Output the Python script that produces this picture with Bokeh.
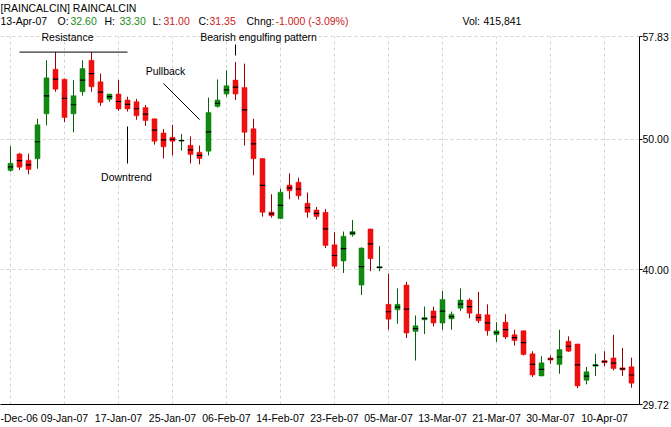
from bokeh.plotting import figure
from bokeh.models import (Range1d, FixedTicker, ColumnDataSource, Label,
                          PrintfTickFormatter)
from bokeh.embed import file_html
from bokeh.resources import INLINE

# ---------------- data ----------------
opens = [47.60, 48.86, 48.38, 48.49, 51.92, 55.33, 54.57, 51.92, 53.61, 56.01,
         54.37, 53.03, 53.43, 52.98, 52.85, 52.40, 51.54, 50.46, 50.13, 49.86,
         49.52, 48.99, 49.07, 52.48, 53.43, 54.50, 53.94, 50.78, 48.51, 44.42,
         43.92, 46.48, 46.70, 45.10, 44.57, 44.40, 41.92, 40.68, 42.68, 38.84,
         43.13, 40.15, 37.37, 36.95, 38.84, 35.30, 36.19, 36.87, 35.94, 36.26,
         37.07, 37.70, 36.62, 36.57, 35.05, 36.01, 35.05, 35.35, 33.59, 31.90,
         33.28, 32.78, 34.55, 34.34, 31.57, 32.65, 33.08, 33.28, 32.52, 32.60]
highs = [49.45, 48.94, 48.89, 51.54, 56.01, 56.64, 54.60, 54.50, 56.01, 56.64,
         55.00, 53.45, 54.50, 53.23, 53.06, 52.60, 51.56, 50.76, 51.09, 50.38,
         50.20, 49.50, 53.16, 54.55, 55.25, 55.89, 55.76, 51.54, 48.53, 45.78,
         46.21, 47.38, 47.05, 45.91, 44.81, 44.65, 42.88, 42.93, 43.81, 41.72,
         43.15, 41.82, 39.72, 38.59, 39.09, 36.52, 37.20, 37.20, 38.39, 36.82,
         38.59, 37.83, 38.33, 37.37, 36.01, 36.62, 35.43, 35.37, 33.79, 33.41,
         33.46, 35.43, 34.93, 34.36, 32.58, 33.59, 33.79, 35.05, 34.04, 33.30]
lows = [47.50, 47.63, 47.30, 47.73, 51.04, 53.61, 51.29, 50.51, 53.31, 53.61,
        52.53, 52.85, 52.15, 52.10, 51.47, 51.01, 49.57, 48.51, 48.74, 49.12,
        48.13, 48.06, 48.74, 52.40, 53.23, 52.98, 49.50, 47.23, 44.07, 43.99,
        43.89, 45.40, 45.38, 43.99, 43.85, 41.67, 40.10, 39.77, 42.55, 38.08,
        39.90, 39.90, 35.43, 35.89, 34.80, 33.08, 35.10, 35.68, 35.43, 35.43,
        36.87, 36.31, 35.94, 34.98, 34.50, 34.72, 34.22, 33.46, 31.82, 31.88,
        32.83, 32.07, 33.74, 30.96, 31.26, 31.90, 32.65, 32.32, 31.90, 31.00]
closes = [48.15, 47.85, 47.68, 51.09, 54.67, 53.81, 51.64, 53.31, 55.38, 53.99,
          52.78, 53.43, 52.30, 52.30, 51.77, 51.41, 49.83, 49.40, 49.83, 49.90,
          48.81, 48.51, 52.02, 52.98, 54.07, 53.43, 50.51, 48.49, 44.40, 44.14,
          45.94, 46.04, 45.66, 44.40, 44.08, 41.87, 40.28, 42.58, 42.93, 41.67,
          40.86, 40.25, 36.24, 37.37, 35.18, 35.73, 36.37, 35.94, 37.75, 36.62,
          37.70, 36.69, 36.11, 35.35, 35.35, 34.88, 34.60, 33.54, 31.97, 32.90,
          33.11, 33.92, 33.79, 31.14, 32.22, 32.78, 32.90, 32.47, 32.35, 31.35]

date_tick_index = [0, 6, 12, 18, 24, 30, 36, 42, 48, 54, 60, 66]
# first label is cut by the picture's left edge in the reference
date_tick_labels = ["-Dec-06", "09-Jan-07", "17-Jan-07", "25-Jan-07", "06-Feb-07",
                    "14-Feb-07", "23-Feb-07", "05-Mar-07", "13-Mar-07", "21-Mar-07",
                    "30-Mar-07", "10-Apr-07"]
price_ticks = [29.72, 40.0, 50.0, 57.83]

header_title = "[RAINCALCIN] RAINCALCIN"
header_items = [("13-Apr-07", "black"), ("O:", "black"), ("32.60", "green"),
                ("H:", "black"), ("33.30", "green"), ("L:", "black"), ("31.00", "red"),
                ("C:", "black"), ("31.35", "red"), ("Chng:", "black"),
                ("-1.000 (-3.09%)", "red"), ("Vol:", "black"), ("415,841", "black")]

# ---------------- derived ----------------
n = len(opens)
idx = list(range(n))
up = [c >= o for o, c in zip(opens, closes)]
GREEN, RED = "#118811", "#ee1010"
GREEN_W, RED_W = "#0b5e0b", "#a00000"
src = ColumnDataSource(dict(
    x=idx, o=opens, h=highs, l=lows, c=closes,
    top=[max(o, c) for o, c in zip(opens, closes)],
    bot=[min(o, c) for o, c in zip(opens, closes)],
    mid=[(o + c) / 2 for o, c in zip(opens, closes)],
    xl=[i - 0.3 for i in idx], xr=[i + 0.3 for i in idx],
    body=[GREEN if u else RED for u in up],
    wick=[GREEN_W if u else RED_W for u in up],
))

# ---------------- layout ----------------
W, H = 671, 427
FRAME_W, FRAME_H = 639, 404
PX_PER_BAR = 9.0
FIRST_BAR_PX = 10.0
Y_BOT, Y_LAB_TOP = price_ticks[0], price_ticks[-1]
TOP_LABEL_PX = 36.0
px_per_unit = (FRAME_H - TOP_LABEL_PX) / (Y_LAB_TOP - Y_BOT)
Y_END = Y_LAB_TOP + TOP_LABEL_PX / px_per_unit
X0 = -FIRST_BAR_PX / PX_PER_BAR
X1 = X0 + FRAME_W / PX_PER_BAR

p = figure(width=W, height=H, output_backend="svg", toolbar_location=None,
           x_range=Range1d(X0, X1), y_range=Range1d(Y_BOT, Y_END),
           y_axis_location="right", min_border_left=0, min_border_right=W - FRAME_W,
           min_border_top=0, min_border_bottom=H - FRAME_H)
p.outline_line_color = None
p.background_fill_color = "white"
p.border_fill_color = "white"

FONT = "Liberation Sans"
FS = "10.5px"

xa = p.xaxis[0]
xa.ticker = FixedTicker(ticks=date_tick_index)
xa.major_label_overrides = {i: s for i, s in zip(date_tick_index, date_tick_labels)}
xa.major_tick_out = 0
xa.major_tick_in = 0
xa.major_label_standoff = 7
xa.axis_line_color = "black"
xa.major_label_text_font = FONT
xa.major_label_text_font_size = FS
xa.major_label_text_color = "black"

ya = p.yaxis[0]
ya.ticker = FixedTicker(ticks=price_ticks)
ya.formatter = PrintfTickFormatter(format="%.2f")
ya.bounds = (Y_BOT, Y_LAB_TOP)
ya.major_tick_out = 3
ya.major_tick_in = 0
ya.major_label_standoff = 0
ya.axis_line_color = "black"
ya.major_tick_line_color = "black"
ya.major_label_text_font = FONT
ya.major_label_text_font_size = FS
ya.major_label_text_color = "black"

GRID_COLOR = "#d2d2d2"
p.xgrid.visible = False
p.ygrid[0].grid_line_color = GRID_COLOR
p.ygrid[0].grid_line_dash = "3 3"
p.ygrid[0].ticker = FixedTicker(ticks=price_ticks)

p.segment(x0=date_tick_index, y0=[Y_BOT] * len(date_tick_index),
          x1=date_tick_index, y1=[Y_LAB_TOP] * len(date_tick_index),
          line_color=GRID_COLOR, line_dash="3 3", line_width=1)

# candles
p.segment(x0="x", y0="l", x1="x", y1="h", color="wick", line_width=1, source=src)
p.vbar(x="x", width=0.56, top="top", bottom="bot", fill_color="body",
       line_color="body", line_width=0.5, source=src)
p.segment(x0="xl", y0="mid", x1="xr", y1="mid", color="black", line_width=1.2, source=src)

# ---------------- annotations ----------------
def dx(px):
    return X0 + px / PX_PER_BAR

def dy(py):
    return Y_END - py / px_per_unit

def lab(px, py, text, align="center", color="black"):
    p.add_layout(Label(x=dx(px), y=dy(py), text=text, text_align=align,
                       text_baseline="middle", text_font=FONT,
                       text_font_size=FS, text_color=color))

resistance = max(highs[:13])
p.segment(x0=[dx(19)], y0=[resistance], x1=[dx(127)], y1=[resistance],
          color="black", line_width=1)
lab(67, 36, "Resistance")

p.segment(x0=[25], y0=[dy(44)], x1=[25], y1=[dy(55)], color="black", line_width=1)
lab(258, 36, "Bearish engulfing pattern")

lab(165, 70, "Pullback")
p.segment(x0=[dx(163)], y0=[dy(83)], x1=[dx(199)], y1=[dy(119)], color="black", line_width=1)

lab(126, 176, "Downtrend")
p.segment(x0=[13], y0=[dy(126)], x1=[13], y1=[dy(163)], color="black", line_width=1)

# header
lab(0, 7, header_title, align="left")
header_x = [0, 57, 70, 104, 119, 152, 163, 198, 209, 246, 275, 462, 483]
colors = {"black": "black", "green": "#1a8a1a", "red": "#cc2020"}
for px, (t, c) in zip(header_x, header_items):
    lab(px, 20, t, align="left", color=colors[c])

open("out.html", "w").write(file_html(p, INLINE))
